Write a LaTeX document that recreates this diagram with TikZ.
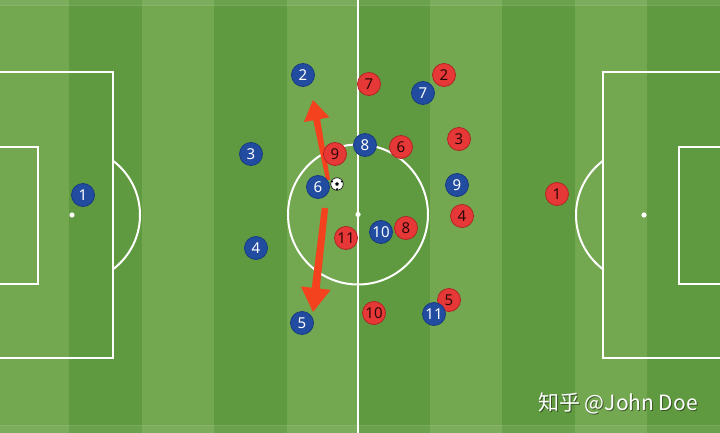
\documentclass[tikz,border=0pt]{standalone}
\usepackage{fontspec}
\setmainfont{Noto Sans}
\newfontfamily\cjk{Noto Sans CJK SC}
\usetikzlibrary{calc}
\definecolor{lightg}{RGB}{115,167,80}
\definecolor{darkg}{RGB}{96,154,64}
\definecolor{bluef}{RGB}{33,76,160}
\definecolor{blueb}{RGB}{24,58,128}
\definecolor{redf}{RGB}{230,57,55}
\definecolor{redb}{RGB}{178,36,36}
\definecolor{redt}{RGB}{45,8,8}
\definecolor{arrowc}{RGB}{244,66,30}
\tikzset{
  pline/.style={white, line width=2pt},
  bp/.style={circle, fill=bluef, draw=blueb, line width=0.8pt, minimum size=23pt, inner sep=0pt, text=white, font=\fontsize{15}{15}\selectfont},
  rp/.style={circle, fill=redf, draw=redb, line width=0.8pt, minimum size=23pt, inner sep=0pt, text=redt, font=\fontsize{15}{15}\selectfont},
  wmark/.style={font=\cjk\fontsize{21}{21}\selectfont, inner sep=0pt}
}
\begin{document}
\begin{tikzpicture}[x=1pt, y=-1pt]
\useasboundingbox (0,0) rectangle (720,433);
% stripes
\foreach \a/\b/\c in {0/69/lightg, 69/142/darkg, 142/214/lightg, 214/287/darkg, 287/358/lightg, 358/430/darkg, 430/502/lightg, 502/575/darkg, 575/647/lightg, 647/720/darkg}
  \fill[\c] (\a,0) rectangle (\b,433);
% faint touchline bands
\fill[white, opacity=0.07] (0,0) rectangle (720,5);
\draw[white, opacity=0.15, line width=1pt] (0,5.5) -- (720,5.5);
\fill[white, opacity=0.07] (0,426) rectangle (720,433);
\draw[white, opacity=0.15, line width=1pt] (0,425.5) -- (720,425.5);
% halfway line and centre circle
\draw[pline] (358,0) -- (358,433);
\draw[pline] (358,214.5) circle[radius=70];
\fill[white] (358,214.5) circle[radius=2.6];
% left penalty area
\draw[pline] (0,72.5) -- (113,72.5) -- (113,357.5) -- (0,357.5);
\draw[pline] (0,147.5) -- (38,147.5) -- (38,283.5) -- (0,283.5);
\fill[white] (72,215) circle[radius=2.6];
\begin{scope}
  \clip (114,0) rectangle (300,433);
  \draw[pline] (72,215) circle[radius=68];
\end{scope}
% right penalty area
\draw[pline] (720,72.5) -- (603,72.5) -- (603,357.5) -- (720,357.5);
\draw[pline] (720,147.5) -- (679,147.5) -- (679,283.5) -- (720,283.5);
\fill[white] (644,215) circle[radius=2.6];
\begin{scope}
  \clip (500,0) rectangle (602,433);
  \draw[pline] (644,215) circle[radius=68];
\end{scope}
% arrows
\coordinate (a1s) at (328,180);
\coordinate (a1t) at (313,100);
\coordinate (a1h) at ($(a1t)!20pt!(a1s)$);
\fill[arrowc] ($(a1s)!2pt!90:(a1t)$) -- ($(a1h)!3.5pt!90:(a1t)$) -- ($(a1h)!13pt!90:(a1t)$) -- (a1t)
  -- ($(a1h)!13pt!-90:(a1t)$) -- ($(a1h)!3.5pt!-90:(a1t)$) -- ($(a1s)!2pt!-90:(a1t)$) -- cycle;
\coordinate (a2s) at (325,208);
\coordinate (a2t) at (313,312);
\coordinate (a2h) at ($(a2t)!24pt!(a2s)$);
\fill[arrowc] ($(a2s)!3.2pt!90:(a2t)$) -- ($(a2h)!4pt!90:(a2t)$) -- ($(a2h)!15pt!90:(a2t)$) -- (a2t)
  -- ($(a2h)!15pt!-90:(a2t)$) -- ($(a2h)!4pt!-90:(a2t)$) -- ($(a2s)!3.2pt!-90:(a2t)$) -- cycle;
% red team
\node[rp] (r1) at (557,194) {1};
\node[rp] (r2) at (444,75) {2};
\node[rp] (r3) at (459,139) {3};
\node[rp] (r4) at (462,216) {4};
\node[rp] (r5) at (449,300) {5};
\node[rp] (r6) at (401,147) {6};
\node[rp] (r7) at (369,84) {7};
\node[rp] (r8) at (406,228) {8};
\node[rp] (r9) at (335,154) {9};
\node[rp] (r10) at (374,313) {10};
\node[rp] (r11) at (346,238) {11};
% blue team
\node[bp] (b1) at (83,195) {1};
\node[bp] (b2) at (303,75) {2};
\node[bp] (b3) at (251,154) {3};
\node[bp] (b4) at (256,248) {4};
\node[bp] (b5) at (302,323) {5};
\node[bp] (b6) at (318,187) {6};
\node[bp] (b7) at (423,93) {7};
\node[bp] (b8) at (365,145) {8};
\node[bp] (b9) at (457,185) {9};
\node[bp] (b10) at (381,232) {10};
\node[bp] (b11) at (434,314) {11};
% ball
\node[circle, fill=white, draw=black, line width=0.6pt, minimum size=12.5pt, inner sep=0pt] (ball) at (337,184) {};
\fill[black] ($(ball.center)+(0,-1.8)$) -- ($(ball.center)+(1.8,-0.5)$) -- ($(ball.center)+(1.1,1.6)$) -- ($(ball.center)+(-1.1,1.6)$) -- ($(ball.center)+(-1.8,-0.5)$) -- cycle;
\fill[black] ($(ball.center)+(-5,-2.5)$) circle[radius=1.2];
\fill[black] ($(ball.center)+(5,-2.5)$) circle[radius=1.2];
\fill[black] ($(ball.center)+(0,5.2)$) circle[radius=1.2];
% watermark
\node[wmark, text=black, opacity=0.45] (wms) at (619,404) {知乎 @John Doe};
\node[wmark, text=white] (wm) at (618,403) {知乎 @John Doe};
\end{tikzpicture}
\end{document}
